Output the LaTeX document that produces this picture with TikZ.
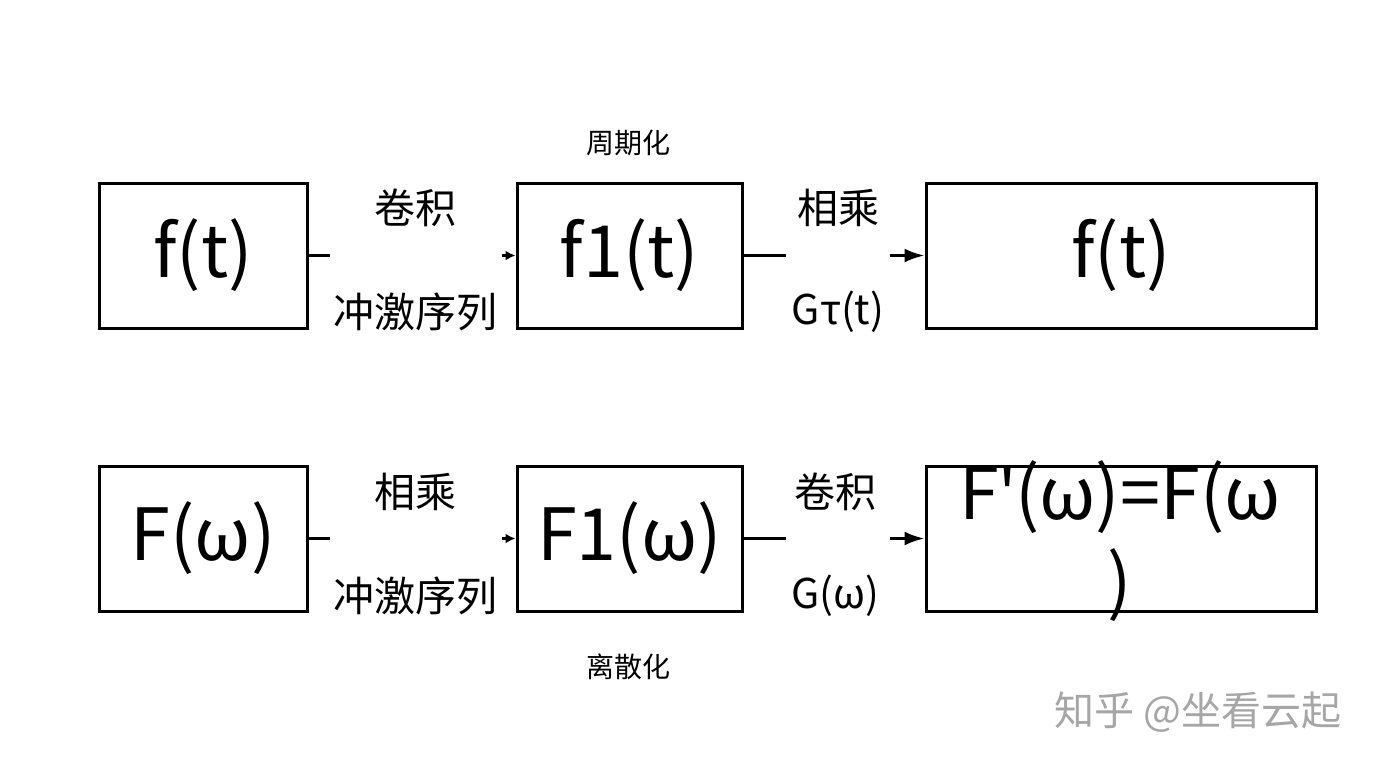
\documentclass[tikz,border=0pt]{standalone}
\usepackage{fontspec}
\setmainfont{Noto Sans CJK SC}
\newfontfamily\latf{Noto Sans}
\usetikzlibrary{arrows.meta}
\begin{document}
\begin{tikzpicture}[x=0.5pt,y=-0.5pt,
  box/.style={draw,line width=1.5pt,minimum width=#1,inner sep=0pt,minimum height=72.5pt},
  big/.style={font=\fontsize{36}{40}\selectfont},
  lab/.style={font=\fontsize{20.5}{22}\selectfont},
  small/.style={font=\fontsize{14}{16}\selectfont},
  cover/.style={fill=white,inner sep=0pt}]
\useasboundingbox (0,0) rectangle (1385,773);
% row 1
\node[box=104pt,big] (a1) at (203,255.5) {f(t)};
\node[box=112.5pt,big] (b1) at (629.5,255.5) {f1(t)};
\node[box=195pt,big] (c1) at (1121,255.5) {f(t)};
\draw[line width=1.5pt,-{Latex[length=5pt,width=5pt]}] (a1) -- (b1);
\draw[line width=1.5pt,-{Latex[length=10pt,width=7pt]}] (b1) -- (c1);
\fill[white] (330,190) rectangle (502,335);
\fill[white] (786,190) rectangle (890,335);
\node[lab] (l1) at (415,208) {卷积};
\node[lab] (l2) at (415,312) {冲激序列};
\node[lab] (l3) at (838,208) {相乘};
\node[lab] (l4) at (838,312) {Gτ(t)};
\node[small] (p1) at (628,143) {周期化};
% row 2
\node[box=104pt,big] (a2) at (203,538.5) {F(ω)};
\node[box=112.5pt,big] (b2) at (629.5,538.5) {F1(ω)};
\node[box=195pt] (c2) at (1121,538.5) {};
\draw[line width=1.5pt,-{Latex[length=5pt,width=5pt]}] (a2) -- (b2);
\draw[line width=1.5pt,-{Latex[length=10pt,width=7pt]}] (b2) -- (c2);
\fill[white] (330,473) rectangle (502,618);
\fill[white] (786,473) rectangle (890,618);
\node[big] (t1) at (1120,497) {F{\latf '}(ω)=F(ω};
\node[big] (t2) at (1120,585) {)};
\node[lab] (m1) at (415,492) {相乘};
\node[lab] (m2) at (415,596) {冲激序列};
\node[lab] (m3) at (835,492) {卷积};
\node[lab] (m4) at (835,596) {G(ω)};
\node[small] (p2) at (628,667) {离散化};
\node[font=\fontsize{20}{22}\selectfont,text=black!35] (w) at (1198,712) {知乎 @坐看云起};
\end{tikzpicture}
\end{document}
